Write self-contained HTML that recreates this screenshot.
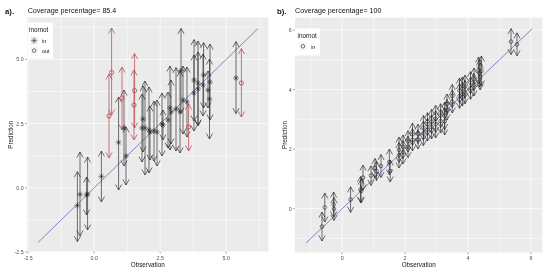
<!DOCTYPE html>
<html><head><meta charset="utf-8"><title>Coverage plots</title>
<style>
html,body{margin:0;padding:0;background:#fff;width:550px;height:275px;overflow:hidden}
svg{display:block}
text{font-family:"Liberation Sans",Arial,sans-serif}
.tb{font-size:7.8px;font-weight:bold;fill:#111}
.tt{font-size:7.35px;fill:#111}
.at{font-size:6.3px;fill:#111}
.tk{font-size:5.3px;fill:#4d4d4d}
.lg{font-size:6.9px;fill:#111}
.lt{font-size:5.4px;fill:#111}
</style></head>
<body><svg width="550" height="275" viewBox="0 0 550 275">
<rect width="550" height="275" fill="#fff"/>
<rect x="27" y="17.5" width="241.5" height="234.3" fill="#ebebeb"/>
<line x1="61.2" y1="17.5" x2="61.2" y2="251.8" stroke="#fff" stroke-width="0.5"/>
<line x1="127.2" y1="17.5" x2="127.2" y2="251.8" stroke="#fff" stroke-width="0.5"/>
<line x1="193.2" y1="17.5" x2="193.2" y2="251.8" stroke="#fff" stroke-width="0.5"/>
<line x1="259.2" y1="17.5" x2="259.2" y2="251.8" stroke="#fff" stroke-width="0.5"/>
<line x1="27" y1="219.9" x2="268.5" y2="219.9" stroke="#fff" stroke-width="0.5"/>
<line x1="27" y1="155.70000000000002" x2="268.5" y2="155.70000000000002" stroke="#fff" stroke-width="0.5"/>
<line x1="27" y1="91.50000000000001" x2="268.5" y2="91.50000000000001" stroke="#fff" stroke-width="0.5"/>
<line x1="27" y1="27.30000000000001" x2="268.5" y2="27.30000000000001" stroke="#fff" stroke-width="0.5"/>
<line x1="28.200000000000003" y1="17.5" x2="28.200000000000003" y2="251.8" stroke="#fff" stroke-width="0.72"/>
<line x1="94.2" y1="17.5" x2="94.2" y2="251.8" stroke="#fff" stroke-width="0.72"/>
<line x1="160.2" y1="17.5" x2="160.2" y2="251.8" stroke="#fff" stroke-width="0.72"/>
<line x1="226.2" y1="17.5" x2="226.2" y2="251.8" stroke="#fff" stroke-width="0.72"/>
<line x1="27" y1="252.0" x2="268.5" y2="252.0" stroke="#fff" stroke-width="0.72"/>
<line x1="27" y1="187.8" x2="268.5" y2="187.8" stroke="#fff" stroke-width="0.72"/>
<line x1="27" y1="123.60000000000001" x2="268.5" y2="123.60000000000001" stroke="#fff" stroke-width="0.72"/>
<line x1="27" y1="59.400000000000006" x2="268.5" y2="59.400000000000006" stroke="#fff" stroke-width="0.72"/>
<rect x="295" y="17.6" width="247.39999999999998" height="234.8" fill="#ebebeb"/>
<line x1="310.75" y1="17.6" x2="310.75" y2="252.4" stroke="#fff" stroke-width="0.5"/>
<line x1="373.65" y1="17.6" x2="373.65" y2="252.4" stroke="#fff" stroke-width="0.5"/>
<line x1="436.54999999999995" y1="17.6" x2="436.54999999999995" y2="252.4" stroke="#fff" stroke-width="0.5"/>
<line x1="499.45" y1="17.6" x2="499.45" y2="252.4" stroke="#fff" stroke-width="0.5"/>
<line x1="295" y1="238.48" x2="542.4" y2="238.48" stroke="#fff" stroke-width="0.5"/>
<line x1="295" y1="178.92" x2="542.4" y2="178.92" stroke="#fff" stroke-width="0.5"/>
<line x1="295" y1="119.35999999999999" x2="542.4" y2="119.35999999999999" stroke="#fff" stroke-width="0.5"/>
<line x1="295" y1="59.79999999999998" x2="542.4" y2="59.79999999999998" stroke="#fff" stroke-width="0.5"/>
<line x1="342.2" y1="17.6" x2="342.2" y2="252.4" stroke="#fff" stroke-width="0.72"/>
<line x1="405.09999999999997" y1="17.6" x2="405.09999999999997" y2="252.4" stroke="#fff" stroke-width="0.72"/>
<line x1="468.0" y1="17.6" x2="468.0" y2="252.4" stroke="#fff" stroke-width="0.72"/>
<line x1="530.9" y1="17.6" x2="530.9" y2="252.4" stroke="#fff" stroke-width="0.72"/>
<line x1="295" y1="208.7" x2="542.4" y2="208.7" stroke="#fff" stroke-width="0.72"/>
<line x1="295" y1="149.14" x2="542.4" y2="149.14" stroke="#fff" stroke-width="0.72"/>
<line x1="295" y1="89.57999999999998" x2="542.4" y2="89.57999999999998" stroke="#fff" stroke-width="0.72"/>
<line x1="295" y1="30.019999999999982" x2="542.4" y2="30.019999999999982" stroke="#fff" stroke-width="0.72"/>
<line x1="37.96800000000001" y1="242.4984" x2="257.88" y2="28.584000000000003" stroke="#6262b8" stroke-width="0.75"/>
<line x1="306.03249999999997" y1="242.947" x2="532.4725" y2="28.530999999999977" stroke="#6262b8" stroke-width="0.75"/>
<path d="M77.4 205.6V171.6M74.3 177.1L77.4 171.6L80.5 177.1M77.4 205.6V241.6M74.3 236.1L77.4 241.6L80.5 236.1M80.0 194.4V152.0M76.9 157.5L80.0 152.0L83.1 157.5M80.0 194.4V236.0M76.9 230.5L80.0 236.0L83.1 230.5M86.6 195.0V177.0M83.5 182.5L86.6 177.0L89.7 182.5M86.6 195.0V215.0M83.5 209.5L86.6 215.0L89.7 209.5M87.6 194.0V157.0M84.5 162.5L87.6 157.0L90.7 162.5M87.6 194.0V230.0M84.5 224.5L87.6 230.0L90.7 224.5M101.4 176.4V151.0M98.3 156.5L101.4 151.0L104.5 156.5M101.4 176.4V202.0M98.3 196.5L101.4 202.0L104.5 196.5M118.6 142.4V97.0M115.5 102.5L118.6 97.0L121.7 102.5M118.6 142.4V190.0M115.5 184.5L118.6 190.0L121.7 184.5M124.0 128.0V90.0M120.9 95.5L124.0 90.0L127.1 95.5M124.0 128.0V166.0M120.9 160.5L124.0 166.0L127.1 160.5M126.0 156.0V127.0M122.9 132.5L126.0 127.0L129.1 132.5M126.0 156.0V185.0M122.9 179.5L126.0 185.0L129.1 179.5M236.0 78.0V41.6M232.9 47.1L236.0 41.6L239.1 47.1M236.0 78.0V113.6M232.9 108.1L236.0 113.6L239.1 108.1M181.0 70.6V28.4M177.9 33.9L181.0 28.4L184.1 33.9M181.0 70.6V113.0M177.9 107.5L181.0 113.0L184.1 107.5M142.0 128.0V94.0M138.9 99.5L142.0 94.0L145.1 99.5M142.0 128.0V162.0M138.9 156.5L142.0 162.0L145.1 156.5M143.0 119.0V86.0M139.9 91.5L143.0 86.0L146.1 91.5M143.0 119.0V152.0M139.9 146.5L143.0 152.0L146.1 146.5M145.0 128.0V81.0M141.9 86.5L145.0 81.0L148.1 86.5M145.0 128.0V175.0M141.9 169.5L145.0 175.0L148.1 169.5M149.0 130.0V87.0M145.9 92.5L149.0 87.0L152.1 92.5M149.0 130.0V173.0M145.9 167.5L149.0 173.0L152.1 167.5M150.0 132.0V106.0M146.9 111.5L150.0 106.0L153.1 111.5M150.0 132.0V160.0M146.9 154.5L150.0 160.0L153.1 154.5M154.0 131.0V101.0M150.9 106.5L154.0 101.0L157.1 106.5M154.0 131.0V161.0M150.9 155.5L154.0 161.0L157.1 155.5M157.0 132.0V100.0M153.9 105.5L157.0 100.0L160.1 105.5M157.0 132.0V166.0M153.9 160.5L157.0 166.0L160.1 160.5M162.0 124.0V93.0M158.9 98.5L162.0 93.0L165.1 98.5M162.0 124.0V156.0M158.9 150.5L162.0 156.0L165.1 150.5M163.0 125.0V110.0M159.9 115.5L163.0 110.0L166.1 115.5M163.0 125.0V140.0M159.9 134.5L163.0 140.0L166.1 134.5M168.0 120.0V92.0M164.9 97.5L168.0 92.0L171.1 97.5M168.0 120.0V148.0M164.9 142.5L168.0 148.0L171.1 142.5M170.0 108.0V66.0M166.9 71.5L170.0 66.0L173.1 71.5M170.0 108.0V150.0M166.9 144.5L170.0 150.0L173.1 144.5M171.0 112.0V80.0M167.9 85.5L171.0 80.0L174.1 85.5M171.0 112.0V144.0M167.9 138.5L171.0 144.0L174.1 138.5M176.0 109.0V67.6M172.9 73.1L176.0 67.6L179.1 73.1M176.0 109.0V151.0M172.9 145.5L176.0 151.0L179.1 145.5M180.0 112.0V71.0M176.9 76.5L180.0 71.0L183.1 76.5M180.0 112.0V153.0M176.9 147.5L180.0 153.0L183.1 147.5M183.0 100.0V66.0M179.9 71.5L183.0 66.0L186.1 71.5M183.0 100.0V134.0M179.9 128.5L183.0 134.0L186.1 128.5M187.0 102.0V67.0M183.9 72.5L187.0 67.0L190.1 72.5M187.0 102.0V137.0M183.9 131.5L187.0 137.0L190.1 131.5M194.0 80.0V39.6M190.9 45.1L194.0 39.6L197.1 45.1M194.0 80.0V121.0M190.9 115.5L194.0 121.0L197.1 115.5M198.0 83.0V41.0M194.9 46.5L198.0 41.0L201.1 46.5M198.0 83.0V125.0M194.9 119.5L198.0 125.0L201.1 119.5M203.6 75.0V42.6M200.5 48.1L203.6 42.6L206.7 48.1M203.6 75.0V108.0M200.5 102.5L203.6 108.0L206.7 102.5M210.0 82.0V44.0M206.9 49.5L210.0 44.0L213.1 49.5M210.0 82.0V120.0M206.9 114.5L210.0 120.0L213.1 114.5M194.0 93.0V55.0M190.9 60.5L194.0 55.0L197.1 60.5M194.0 93.0V131.0M190.9 125.5L194.0 131.0L197.1 125.5M198.0 89.0V52.0M194.9 57.5L198.0 52.0L201.1 57.5M198.0 89.0V126.0M194.9 120.5L198.0 126.0L201.1 120.5M203.0 85.0V54.0M199.9 59.5L203.0 54.0L206.1 59.5M203.0 85.0V116.0M199.9 110.5L203.0 116.0L206.1 110.5M209.5 99.0V59.0M206.4 64.5L209.5 59.0L212.6 64.5M209.5 99.0V139.0M206.4 133.5L209.5 139.0L212.6 133.5M208.0 90.0V71.0M204.9 76.5L208.0 71.0L211.1 76.5M208.0 90.0V108.0M204.9 102.5L208.0 108.0L211.1 102.5" stroke="#222" stroke-width="0.75" fill="none" stroke-opacity="0.85"/>
<path d="M111.6 72.4V28.0M108.5 33.5L111.6 28.0L114.7 33.5M111.6 72.4V115.0M108.5 109.5L111.6 115.0L114.7 109.5M109.0 116.0V74.0M105.9 79.5L109.0 74.0L112.1 79.5M109.0 116.0V158.0M105.9 152.5L109.0 158.0L112.1 152.5M122.0 98.0V67.0M118.9 72.5L122.0 67.0L125.1 72.5M122.0 98.0V130.0M118.9 124.5L122.0 130.0L125.1 124.5M134.6 90.6V53.6M131.5 59.1L134.6 53.6L137.7 59.1M134.6 90.6V128.0M131.5 122.5L134.6 128.0L137.7 122.5M134.0 105.0V70.0M130.9 75.5L134.0 70.0L137.1 75.5M134.0 105.0V140.0M130.9 134.5L134.0 140.0L137.1 134.5M188.6 127.0V104.0M185.5 109.5L188.6 104.0L191.7 109.5M188.6 127.0V151.0M185.5 145.5L188.6 151.0L191.7 145.5M241.4 83.0V48.6M238.3 54.1L241.4 48.6L244.5 54.1M241.4 83.0V117.0M238.3 111.5L241.4 117.0L244.5 111.5" stroke="#b5444f" stroke-width="0.72" fill="none"/>
<path d="M74.5 205.6H80.3M77.4 202.7V208.5M75.3 203.5L79.5 207.7M75.3 207.7L79.5 203.5M77.1 194.4H82.9M80.0 191.5V197.3M77.9 192.3L82.1 196.5M77.9 196.5L82.1 192.3M83.7 195.0H89.5M86.6 192.1V197.9M84.5 192.9L88.7 197.1M84.5 197.1L88.7 192.9M84.7 194.0H90.5M87.6 191.1V196.9M85.5 191.9L89.7 196.1M85.5 196.1L89.7 191.9M98.5 176.4H104.3M101.4 173.5V179.3M99.3 174.3L103.5 178.5M99.3 178.5L103.5 174.3M115.7 142.4H121.5M118.6 139.5V145.3M116.5 140.3L120.7 144.5M116.5 144.5L120.7 140.3M121.1 128.0H126.9M124.0 125.1V130.9M121.9 125.9L126.1 130.1M121.9 130.1L126.1 125.9M123.1 156.0H128.9M126.0 153.1V158.9M123.9 153.9L128.1 158.1M123.9 158.1L128.1 153.9M233.1 78.0H238.9M236.0 75.1V80.9M233.9 75.9L238.1 80.1M233.9 80.1L238.1 75.9M178.1 70.6H183.9M181.0 67.7V73.5M178.9 68.5L183.1 72.7M178.9 72.7L183.1 68.5M139.1 128.0H144.9M142.0 125.1V130.9M139.9 125.9L144.1 130.1M139.9 130.1L144.1 125.9M140.1 119.0H145.9M143.0 116.1V121.9M140.9 116.9L145.1 121.1M140.9 121.1L145.1 116.9M142.1 128.0H147.9M145.0 125.1V130.9M142.9 125.9L147.1 130.1M142.9 130.1L147.1 125.9M146.1 130.0H151.9M149.0 127.1V132.9M146.9 127.9L151.1 132.1M146.9 132.1L151.1 127.9M147.1 132.0H152.9M150.0 129.1V134.9M147.9 129.9L152.1 134.1M147.9 134.1L152.1 129.9M151.1 131.0H156.9M154.0 128.1V133.9M151.9 128.9L156.1 133.1M151.9 133.1L156.1 128.9M154.1 132.0H159.9M157.0 129.1V134.9M154.9 129.9L159.1 134.1M154.9 134.1L159.1 129.9M159.1 124.0H164.9M162.0 121.1V126.9M159.9 121.9L164.1 126.1M159.9 126.1L164.1 121.9M160.1 125.0H165.9M163.0 122.1V127.9M160.9 122.9L165.1 127.1M160.9 127.1L165.1 122.9M165.1 120.0H170.9M168.0 117.1V122.9M165.9 117.9L170.1 122.1M165.9 122.1L170.1 117.9M167.1 108.0H172.9M170.0 105.1V110.9M167.9 105.9L172.1 110.1M167.9 110.1L172.1 105.9M168.1 112.0H173.9M171.0 109.1V114.9M168.9 109.9L173.1 114.1M168.9 114.1L173.1 109.9M173.1 109.0H178.9M176.0 106.1V111.9M173.9 106.9L178.1 111.1M173.9 111.1L178.1 106.9M177.1 112.0H182.9M180.0 109.1V114.9M177.9 109.9L182.1 114.1M177.9 114.1L182.1 109.9M180.1 100.0H185.9M183.0 97.1V102.9M180.9 97.9L185.1 102.1M180.9 102.1L185.1 97.9M184.1 102.0H189.9M187.0 99.1V104.9M184.9 99.9L189.1 104.1M184.9 104.1L189.1 99.9M191.1 80.0H196.9M194.0 77.1V82.9M191.9 77.9L196.1 82.1M191.9 82.1L196.1 77.9M195.1 83.0H200.9M198.0 80.1V85.9M195.9 80.9L200.1 85.1M195.9 85.1L200.1 80.9M200.7 75.0H206.5M203.6 72.1V77.9M201.5 72.9L205.7 77.1M201.5 77.1L205.7 72.9M207.1 82.0H212.9M210.0 79.1V84.9M207.9 79.9L212.1 84.1M207.9 84.1L212.1 79.9M191.1 93.0H196.9M194.0 90.1V95.9M191.9 90.9L196.1 95.1M191.9 95.1L196.1 90.9M195.1 89.0H200.9M198.0 86.1V91.9M195.9 86.9L200.1 91.1M195.9 91.1L200.1 86.9M200.1 85.0H205.9M203.0 82.1V87.9M200.9 82.9L205.1 87.1M200.9 87.1L205.1 82.9M206.6 99.0H212.4M209.5 96.1V101.9M207.4 96.9L211.6 101.1M207.4 101.1L211.6 96.9M205.1 90.0H210.9M208.0 87.1V92.9M205.9 87.9L210.1 92.1M205.9 92.1L210.1 87.9" stroke="#222" stroke-width="0.5" fill="none"/>
<g stroke="#b5444f" stroke-width="0.8" fill="none"><circle cx="111.6" cy="72.4" r="2.1"/><circle cx="109.0" cy="116.0" r="2.1"/><circle cx="122.0" cy="98.0" r="2.1"/><circle cx="134.6" cy="90.6" r="2.1"/><circle cx="134.0" cy="105.0" r="2.1"/><circle cx="188.6" cy="127.0" r="2.1"/><circle cx="241.4" cy="83.0" r="2.1"/></g>
<path d="M322.0 226.5V212.0M318.9 217.5L322.0 212.0L325.1 217.5M322.0 226.5V241.0M318.9 235.5L322.0 241.0L325.1 235.5M324.8 207.5V193.0M321.7 198.5L324.8 193.0L327.9 198.5M324.8 207.5V222.0M321.7 216.5L324.8 222.0L327.9 216.5M333.6 204.5V192.0M330.5 197.5L333.6 192.0L336.7 197.5M333.6 204.5V217.0M330.5 211.5L333.6 217.0L336.7 211.5M334.0 209.0V197.5M330.9 203.0L334.0 197.5L337.1 203.0M334.0 209.0V220.5M330.9 215.0L334.0 220.5L337.1 215.0M350.6 199.6V186.8M347.5 192.3L350.6 186.8L353.7 192.3M350.6 199.6V212.4M347.5 206.9L350.6 212.4L353.7 206.9M360.5 189.5V176.5M357.4 182.0L360.5 176.5L363.6 182.0M360.5 189.5V202.5M357.4 197.0L360.5 202.5L363.6 197.0M361.2 191.0V179.0M358.1 184.5L361.2 179.0L364.3 184.5M361.2 191.0V203.0M358.1 197.5L361.2 203.0L364.3 197.5M363.0 177.6V165.1M359.9 170.6L363.0 165.1L366.1 170.6M363.0 177.6V190.1M359.9 184.6L363.0 190.1L366.1 184.6M371.0 175.6V165.8M367.9 171.3L371.0 165.8L374.1 171.3M371.0 175.6V185.4M367.9 179.9L371.0 185.4L374.1 179.9M375.0 168.0V158.5M371.9 164.0L375.0 158.5L378.1 164.0M375.0 168.0V177.5M371.9 172.0L375.0 177.5L378.1 172.0M376.5 171.0V161.5M373.4 167.0L376.5 161.5L379.6 167.0M376.5 171.0V180.5M373.4 175.0L376.5 180.5L379.6 175.0M381.0 166.0V154.5M377.9 160.0L381.0 154.5L384.1 160.0M381.0 166.0V177.5M377.9 172.0L381.0 177.5L384.1 172.0M389.4 162.0V149.0M386.3 154.5L389.4 149.0L392.5 154.5M389.4 162.0V175.0M386.3 169.5L389.4 175.0L392.5 169.5M390.2 171.0V160.0M387.1 165.5L390.2 160.0L393.3 165.5M390.2 171.0V182.0M387.1 176.5L390.2 182.0L393.3 176.5M511.0 41.6V28.6M507.9 34.1L511.0 28.6L514.1 34.1M511.0 41.6V54.6M507.9 49.1L511.0 54.6L514.1 49.1M517.0 44.4V32.9M513.9 38.4L517.0 32.9L520.1 38.4M517.0 44.4V55.9M513.9 50.4L517.0 55.9L520.1 50.4M399.0 149.8V137.0M395.9 142.5L399.0 137.0L402.1 142.5M399.0 149.8V162.5M395.9 157.0L399.0 162.5L402.1 157.0M399.0 155.2V142.5M395.9 148.0L399.0 142.5L402.1 148.0M399.0 155.2V168.0M395.9 162.5L399.0 168.0L402.1 162.5M403.0 146.8V135.0M399.9 140.5L403.0 135.0L406.1 140.5M403.0 146.8V158.5M399.9 153.0L403.0 158.5L406.1 153.0M403.0 152.2V140.5M399.9 146.0L403.0 140.5L406.1 146.0M403.0 152.2V164.0M399.9 158.5L403.0 164.0L406.1 158.5M408.0 141.4V130.7M404.9 136.2L408.0 130.7L411.1 136.2M408.0 141.4V152.2M404.9 146.7L408.0 152.2L411.1 146.7M408.0 146.9V136.2M404.9 141.7L408.0 136.2L411.1 141.7M408.0 146.9V157.7M404.9 152.2L408.0 157.7L411.1 152.2M412.5 134.3V123.1M409.4 128.6L412.5 123.1L415.6 128.6M412.5 134.3V145.5M409.4 140.0L412.5 145.5L415.6 140.0M412.5 139.8V128.6M409.4 134.1L412.5 128.6L415.6 134.1M412.5 139.8V151.0M409.4 145.5L412.5 151.0L415.6 145.5M418.0 133.8V124.2M414.9 129.7L418.0 124.2L421.1 129.7M418.0 133.8V143.5M414.9 138.0L418.0 143.5L421.1 138.0M418.0 139.3V129.7M414.9 135.2L418.0 129.7L421.1 135.2M418.0 139.3V149.0M414.9 143.5L418.0 149.0L421.1 143.5M423.4 127.8V115.5M420.3 121.0L423.4 115.5L426.5 121.0M423.4 127.8V140.2M420.3 134.7L423.4 140.2L426.5 134.7M423.4 133.3V121.0M420.3 126.5L423.4 121.0L426.5 126.5M423.4 133.3V145.7M420.3 140.2L423.4 145.7L426.5 140.2M427.5 124.1V112.7M424.4 118.2L427.5 112.7L430.6 118.2M427.5 124.1V135.5M424.4 130.0L427.5 135.5L430.6 130.0M427.5 129.6V118.2M424.4 123.7L427.5 118.2L430.6 123.7M427.5 129.6V141.0M424.4 135.5L427.5 141.0L430.6 135.5M431.6 121.5V109.4M428.5 114.9L431.6 109.4L434.7 114.9M431.6 121.5V133.5M428.5 128.0L431.6 133.5L434.7 128.0M431.6 127.0V114.9M428.5 120.4L431.6 114.9L434.7 120.4M431.6 127.0V139.0M428.5 133.5L431.6 139.0L434.7 133.5M435.7 118.9V105.3M432.6 110.8L435.7 105.3L438.8 110.8M435.7 118.9V132.5M432.6 127.0L435.7 132.5L438.8 127.0M435.7 124.4V110.8M432.6 116.3L435.7 110.8L438.8 116.3M435.7 124.4V138.0M432.6 132.5L435.7 138.0L438.8 132.5M440.6 115.6V103.7M437.5 109.2L440.6 103.7L443.7 109.2M440.6 115.6V127.5M437.5 122.0L440.6 127.5L443.7 122.0M440.6 121.1V109.2M437.5 114.7L440.6 109.2L443.7 114.7M440.6 121.1V133.0M437.5 127.5L440.6 133.0L443.7 127.5M444.7 115.8V102.0M441.6 107.5L444.7 102.0L447.8 107.5M444.7 115.8V129.5M441.6 124.0L444.7 129.5L447.8 124.0M444.7 121.2V107.5M441.6 113.0L444.7 107.5L447.8 113.0M444.7 121.2V135.0M441.6 129.5L444.7 135.0L447.8 129.5M447.0 104.2V94.0M443.9 99.5L447.0 94.0L450.1 99.5M447.0 104.2V114.5M443.9 109.0L447.0 114.5L450.1 109.0M447.0 109.8V99.5M443.9 105.0L447.0 99.5L450.1 105.0M447.0 109.8V120.0M443.9 114.5L447.0 120.0L450.1 114.5M452.3 96.0V84.4M449.2 89.9L452.3 84.4L455.4 89.9M452.3 96.0V107.5M449.2 102.0L452.3 107.5L455.4 102.0M452.3 101.5V89.9M449.2 95.4L452.3 89.9L455.4 95.4M452.3 101.5V113.0M449.2 107.5L452.3 113.0L455.4 107.5M459.5 90.5V78.0M456.4 83.5L459.5 78.0L462.6 83.5M459.5 90.5V102.9M456.4 97.4L459.5 102.9L462.6 97.4M459.5 96.0V83.5M456.4 89.0L459.5 83.5L462.6 89.0M459.5 96.0V108.4M456.4 102.9L459.5 108.4L462.6 102.9M462.3 88.8V77.0M459.2 82.5L462.3 77.0L465.4 82.5M462.3 88.8V100.5M459.2 95.0L462.3 100.5L465.4 95.0M462.3 94.2V82.5M459.2 88.0L462.3 82.5L465.4 88.0M462.3 94.2V106.0M459.2 100.5L462.3 106.0L465.4 100.5M465.0 86.7V75.0M461.9 80.5L465.0 75.0L468.1 80.5M465.0 86.7V98.3M461.9 92.8L465.0 98.3L468.1 92.8M465.0 92.2V80.5M461.9 86.0L465.0 80.5L468.1 86.0M465.0 92.2V103.8M461.9 98.3L465.0 103.8L468.1 98.3M470.5 82.7V71.6M467.4 77.1L470.5 71.6L473.6 77.1M470.5 82.7V93.8M467.4 88.3L470.5 93.8L473.6 88.3M470.5 88.2V77.1M467.4 82.6L470.5 77.1L473.6 82.6M470.5 88.2V99.3M467.4 93.8L470.5 99.3L473.6 93.8M474.0 79.2V68.0M470.9 73.5L474.0 68.0L477.1 73.5M474.0 79.2V90.5M470.9 85.0L474.0 90.5L477.1 85.0M474.0 84.8V73.5M470.9 79.0L474.0 73.5L477.1 79.0M474.0 84.8V96.0M470.9 90.5L474.0 96.0L477.1 90.5M478.6 70.5V57.0M475.5 62.5L478.6 57.0L481.7 62.5M478.6 70.5V84.0M475.5 78.5L478.6 84.0L481.7 78.5M479.4 73.5V60.0M476.3 65.5L479.4 60.0L482.5 65.5M479.4 73.5V87.0M476.3 81.5L479.4 87.0L482.5 81.5M480.2 76.5V63.0M477.1 68.5L480.2 63.0L483.3 68.5M480.2 76.5V90.0M477.1 84.5L480.2 90.0L483.3 84.5M481.4 71.0V56.0M478.3 61.5L481.4 56.0L484.5 61.5M481.4 71.0V86.0M478.3 80.5L481.4 86.0L484.5 80.5" stroke="#222" stroke-width="0.75" fill="none" stroke-opacity="0.85"/>
<path d="" stroke="#b5444f" stroke-width="0.72" fill="none"/>
<g stroke="#222" stroke-width="0.6" fill="none"><circle cx="322.0" cy="226.5" r="1.8"/><circle cx="324.8" cy="207.5" r="1.8"/><circle cx="333.6" cy="204.5" r="1.8"/><circle cx="334.0" cy="209.0" r="1.8"/><circle cx="350.6" cy="199.6" r="1.8"/><circle cx="360.5" cy="189.5" r="1.8"/><circle cx="361.2" cy="191.0" r="1.8"/><circle cx="363.0" cy="177.6" r="1.8"/><circle cx="371.0" cy="175.6" r="1.8"/><circle cx="375.0" cy="168.0" r="1.8"/><circle cx="376.5" cy="171.0" r="1.8"/><circle cx="381.0" cy="166.0" r="1.8"/><circle cx="389.4" cy="162.0" r="1.8"/><circle cx="390.2" cy="171.0" r="1.8"/><circle cx="511.0" cy="41.6" r="1.8"/><circle cx="517.0" cy="44.4" r="1.8"/><circle cx="399.0" cy="149.8" r="1.8"/><circle cx="399.0" cy="155.2" r="1.8"/><circle cx="403.0" cy="146.8" r="1.8"/><circle cx="403.0" cy="152.2" r="1.8"/><circle cx="408.0" cy="141.4" r="1.8"/><circle cx="408.0" cy="146.9" r="1.8"/><circle cx="412.5" cy="134.3" r="1.8"/><circle cx="412.5" cy="139.8" r="1.8"/><circle cx="418.0" cy="133.8" r="1.8"/><circle cx="418.0" cy="139.3" r="1.8"/><circle cx="423.4" cy="127.8" r="1.8"/><circle cx="423.4" cy="133.3" r="1.8"/><circle cx="427.5" cy="124.1" r="1.8"/><circle cx="427.5" cy="129.6" r="1.8"/><circle cx="431.6" cy="121.5" r="1.8"/><circle cx="431.6" cy="127.0" r="1.8"/><circle cx="435.7" cy="118.9" r="1.8"/><circle cx="435.7" cy="124.4" r="1.8"/><circle cx="440.6" cy="115.6" r="1.8"/><circle cx="440.6" cy="121.1" r="1.8"/><circle cx="444.7" cy="115.8" r="1.8"/><circle cx="444.7" cy="121.2" r="1.8"/><circle cx="447.0" cy="104.2" r="1.8"/><circle cx="447.0" cy="109.8" r="1.8"/><circle cx="452.3" cy="96.0" r="1.8"/><circle cx="452.3" cy="101.5" r="1.8"/><circle cx="459.5" cy="90.5" r="1.8"/><circle cx="459.5" cy="96.0" r="1.8"/><circle cx="462.3" cy="88.8" r="1.8"/><circle cx="462.3" cy="94.2" r="1.8"/><circle cx="465.0" cy="86.7" r="1.8"/><circle cx="465.0" cy="92.2" r="1.8"/><circle cx="470.5" cy="82.7" r="1.8"/><circle cx="470.5" cy="88.2" r="1.8"/><circle cx="474.0" cy="79.2" r="1.8"/><circle cx="474.0" cy="84.8" r="1.8"/><circle cx="478.6" cy="70.5" r="1.8"/><circle cx="479.4" cy="73.5" r="1.8"/><circle cx="480.2" cy="76.5" r="1.8"/><circle cx="481.4" cy="71.0" r="1.8"/></g>
<line x1="28.2" y1="251.8" x2="28.2" y2="253.4" stroke="#333" stroke-width="0.5"/>
<text x="28.2" y="259.7" class="tk" text-anchor="middle">-2.5</text>
<line x1="25.4" y1="252.0" x2="27" y2="252.0" stroke="#333" stroke-width="0.5"/>
<text x="23.7" y="253.9" class="tk" text-anchor="end">-2.5</text>
<line x1="94.2" y1="251.8" x2="94.2" y2="253.4" stroke="#333" stroke-width="0.5"/>
<text x="94.2" y="259.7" class="tk" text-anchor="middle">0.0</text>
<line x1="25.4" y1="187.8" x2="27" y2="187.8" stroke="#333" stroke-width="0.5"/>
<text x="23.7" y="189.7" class="tk" text-anchor="end">0.0</text>
<line x1="160.2" y1="251.8" x2="160.2" y2="253.4" stroke="#333" stroke-width="0.5"/>
<text x="160.2" y="259.7" class="tk" text-anchor="middle">2.5</text>
<line x1="25.4" y1="123.6" x2="27" y2="123.6" stroke="#333" stroke-width="0.5"/>
<text x="23.7" y="125.5" class="tk" text-anchor="end">2.5</text>
<line x1="226.2" y1="251.8" x2="226.2" y2="253.4" stroke="#333" stroke-width="0.5"/>
<text x="226.2" y="259.7" class="tk" text-anchor="middle">5.0</text>
<line x1="25.4" y1="59.4" x2="27" y2="59.4" stroke="#333" stroke-width="0.5"/>
<text x="23.7" y="61.3" class="tk" text-anchor="end">5.0</text>
<line x1="342.2" y1="252.4" x2="342.2" y2="254.0" stroke="#333" stroke-width="0.5"/>
<text x="342.2" y="260.3" class="tk" text-anchor="middle">0</text>
<line x1="293.4" y1="208.7" x2="295" y2="208.7" stroke="#333" stroke-width="0.5"/>
<text x="291.7" y="210.6" class="tk" text-anchor="end">0</text>
<line x1="405.1" y1="252.4" x2="405.1" y2="254.0" stroke="#333" stroke-width="0.5"/>
<text x="405.1" y="260.3" class="tk" text-anchor="middle">2</text>
<line x1="293.4" y1="149.1" x2="295" y2="149.1" stroke="#333" stroke-width="0.5"/>
<text x="291.7" y="151.0" class="tk" text-anchor="end">2</text>
<line x1="468.0" y1="252.4" x2="468.0" y2="254.0" stroke="#333" stroke-width="0.5"/>
<text x="468.0" y="260.3" class="tk" text-anchor="middle">4</text>
<line x1="293.4" y1="89.6" x2="295" y2="89.6" stroke="#333" stroke-width="0.5"/>
<text x="291.7" y="91.5" class="tk" text-anchor="end">4</text>
<line x1="530.9" y1="252.4" x2="530.9" y2="254.0" stroke="#333" stroke-width="0.5"/>
<text x="530.9" y="260.3" class="tk" text-anchor="middle">6</text>
<line x1="293.4" y1="30.0" x2="295" y2="30.0" stroke="#333" stroke-width="0.5"/>
<text x="291.7" y="31.9" class="tk" text-anchor="end">6</text>
<rect x="27.6" y="22.6" width="25.4" height="36.0" fill="#fff"/>
<text x="29.0" y="31.8" class="lg" textLength="19.2" lengthAdjust="spacingAndGlyphs">inornot</text>
<rect x="29.8" y="36.300000000000004" width="8.6" height="8.6" fill="#f7f7f7"/>
<path d="M30.8 40.6H37.4M34.1 37.3V43.9M31.8 38.3L36.4 42.9M31.8 42.9L36.4 38.3" stroke="#222" stroke-width="0.5" fill="none"/>
<text x="42.1" y="43.1" class="lt">in</text>
<rect x="29.8" y="46.300000000000004" width="8.6" height="8.6" fill="#f7f7f7"/>
<circle cx="34.1" cy="50.6" r="1.75" stroke="#222" stroke-width="0.65" fill="none"/>
<text x="42.1" y="53.1" class="lt">out</text>
<rect x="295" y="28.3" width="25" height="27.099999999999998" fill="#fff"/>
<text x="297.52" y="37.5" class="lg" textLength="19.2" lengthAdjust="spacingAndGlyphs">inornot</text>
<rect x="298.59999999999997" y="42.0" width="8.6" height="8.6" fill="#f7f7f7"/>
<circle cx="302.9" cy="46.3" r="1.8" stroke="#222" stroke-width="0.65" fill="none"/>
<text x="311.18" y="48.8" class="lt">in</text>
<text x="5.0" y="13.7" class="tb">a).</text>
<text x="27.7" y="13.2" class="tt" textLength="88.6" lengthAdjust="spacingAndGlyphs">Coverage percentage= 85.4</text>
<text x="276.9" y="13.7" class="tb">b).</text>
<text x="295.1" y="13.2" class="tt" textLength="86.3" lengthAdjust="spacingAndGlyphs">Coverage percentage= 100</text>
<text x="147.8" y="267.3" class="at" text-anchor="middle">Observation</text>
<text x="418.7" y="267.3" class="at" text-anchor="middle">Observation</text>
<text transform="translate(12.6 134.7) rotate(-90)" class="at" text-anchor="middle">Prediction</text>
<text transform="translate(287 135.0) rotate(-90)" class="at" text-anchor="middle">Prediction</text>
</svg></body></html>
